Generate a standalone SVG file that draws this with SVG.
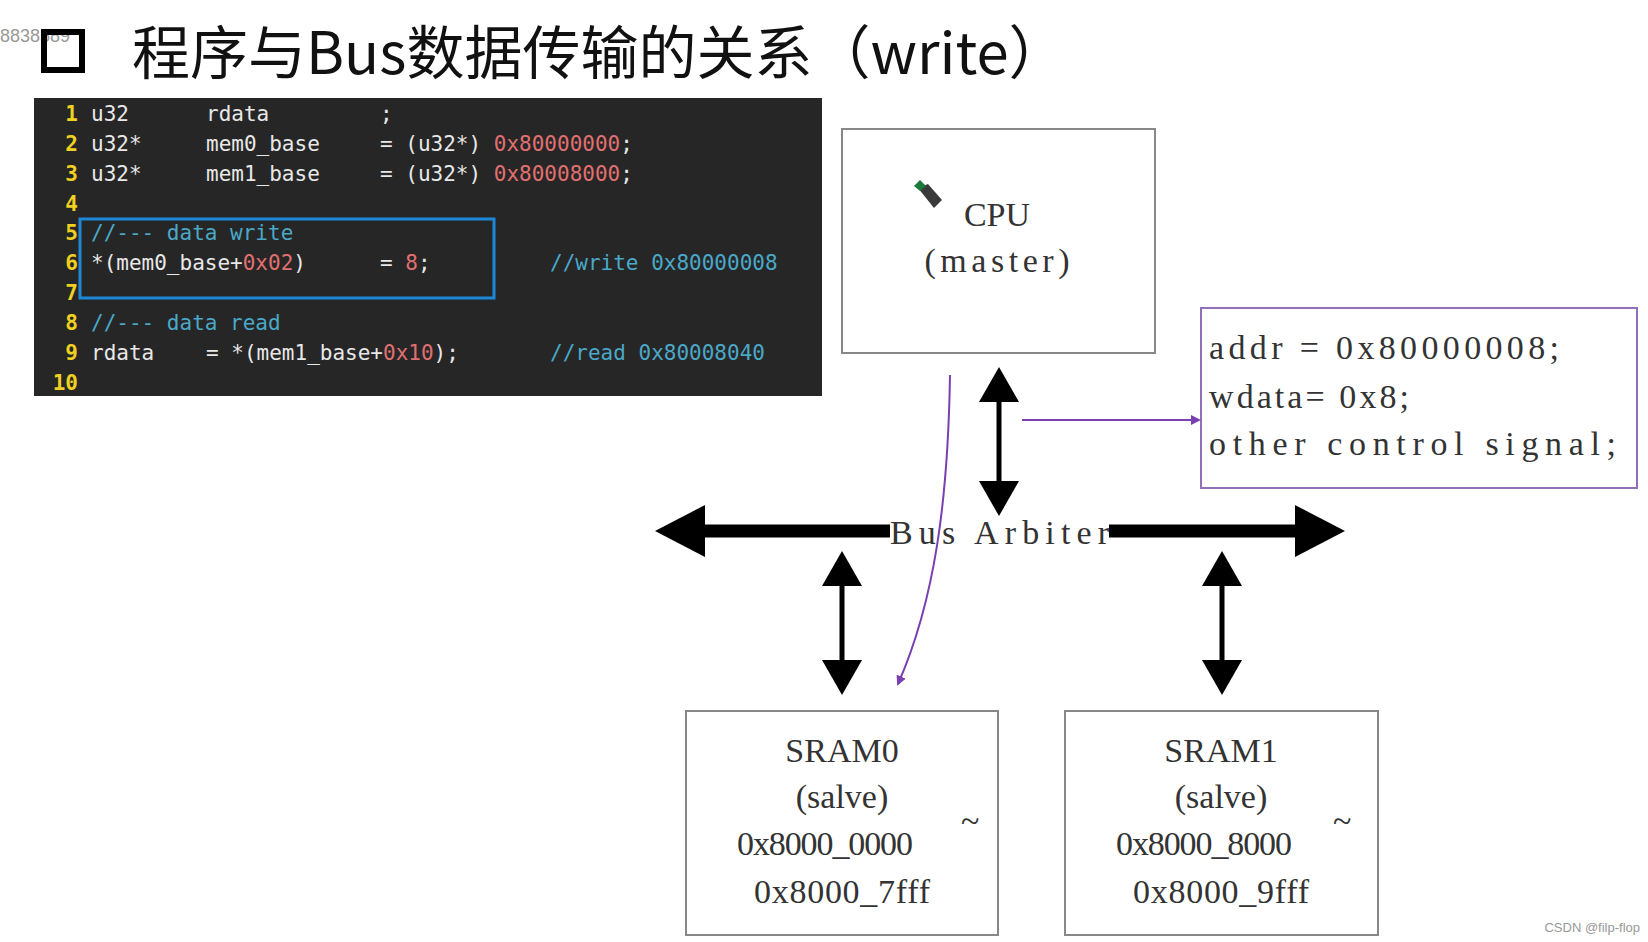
<svg xmlns="http://www.w3.org/2000/svg" width="1648" height="942" viewBox="0 0 1648 942">
<style>
.code{font-family:"DejaVu Sans Mono","Liberation Mono",monospace;font-size:21px;fill:#e8e8e8}
.ln{fill:#f0d020;font-weight:bold}
.num{fill:#e07070}
.cm{fill:#4aa8c8}
.lbl{font-family:"Liberation Serif","DejaVu Serif",serif;font-size:34px;fill:#333}
.box{fill:#fff;stroke:#888;stroke-width:2}
.bus{stroke:#000;stroke-width:5;fill:none}
</style>
<defs>
<marker id="ah" markerWidth="8" markerHeight="8" refX="6" refY="4" orient="auto-start-reverse" markerUnits="strokeWidth"><path d="M0,0 L7,4 L0,8 Z" fill="#000"/></marker>
<marker id="pa" markerWidth="10" markerHeight="10" refX="8" refY="5" orient="auto" markerUnits="userSpaceOnUse"><path d="M0,0 L10,5 L0,10 Z" fill="#7a3fb0"/></marker>
</defs>
<rect width="1648" height="942" fill="#fff"/>
<text x="0" y="42" font-family="Liberation Sans,sans-serif" font-size="18" fill="#999">8838589</text>
<rect x="44" y="32" width="38" height="38" fill="none" stroke="#000" stroke-width="6"/>
<text x="132" y="74" font-family="'Noto Sans CJK SC',sans-serif" font-size="58" fill="#111">程序与Bus数据传输的关系（write）</text>

<g id="code">
<rect x="34" y="98" width="788" height="298" fill="#262626"/>
<rect x="80" y="219" width="414" height="79" fill="none" stroke="#1e88d8" stroke-width="3"/>
<g class="code" text-anchor="end">
<text class="code ln" x="78" y="121">1</text><text class="code ln" x="78" y="151">2</text><text class="code ln" x="78" y="181">3</text><text class="code ln" x="78" y="211">4</text><text class="code ln" x="78" y="240">5</text><text class="code ln" x="78" y="270">6</text><text class="code ln" x="78" y="300">7</text><text class="code ln" x="78" y="330">8</text><text class="code ln" x="78" y="360">9</text><text class="code ln" x="78" y="390">10</text>
</g>
<text class="code" x="91" y="121">u32</text><text class="code" x="206" y="121">rdata</text><text class="code" x="380" y="121">;</text>
<text class="code" x="91" y="151">u32*</text><text class="code" x="206" y="151">mem0_base</text><text class="code" x="380" y="151">= (u32*) <tspan class="num">0x80000000</tspan>;</text>
<text class="code" x="91" y="181">u32*</text><text class="code" x="206" y="181">mem1_base</text><text class="code" x="380" y="181">= (u32*) <tspan class="num">0x80008000</tspan>;</text>
<text class="code cm" x="91" y="240">//--- data write</text>
<text class="code" x="91" y="270">*(mem0_base+<tspan class="num">0x02</tspan>)</text><text class="code" x="380" y="270">= <tspan class="num">8</tspan>;</text>
<text class="code cm" x="550" y="270">//write 0x80000008</text>
<text class="code cm" x="91" y="330">//--- data read</text>
<text class="code" x="91" y="360">rdata</text><text class="code" x="206" y="360">= *(mem1_base+<tspan class="num">0x10</tspan>);</text>
<text class="code cm" x="550" y="360">//read  0x80008040</text>
</g>

<g id="cpu">
<rect class="box" x="842" y="129" width="313" height="224"/>
<path d="M918,188 l10,-4 l14,16 l-8,8 z" fill="#3a3a3a"/><path d="M914,186 l6,-6 l6,6 l-6,5z" fill="#1a7a3a"/>
<text class="lbl" x="997" y="226" text-anchor="middle">CPU</text>
<text class="lbl" x="997" y="272" text-anchor="middle" textLength="145">(master)</text>
</g>

<g id="signals">
<rect x="1201" y="308" width="436" height="180" fill="#fff" stroke="#9070b8" stroke-width="2"/>
<text class="lbl" x="1209" y="359" textLength="350">addr = 0x80000008;</text>
<text class="lbl" x="1209" y="408" textLength="200">wdata= 0x8;</text>
<text class="lbl" x="1209" y="455" textLength="407">other control signal;</text>
</g>

<g id="sram0">
<rect class="box" x="686" y="711" width="312" height="224"/>
<text class="lbl" x="842" y="762" text-anchor="middle">SRAM0</text>
<text class="lbl" x="842" y="808" text-anchor="middle">(salve)</text>
<text class="lbl" x="825" y="855" text-anchor="middle" textLength="176">0x8000_0000</text>
<text class="lbl" x="961" y="832" font-size="24">~</text>
<text class="lbl" x="842" y="903" text-anchor="middle" textLength="176">0x8000_7fff</text>
</g>

<g id="sram1">
<rect class="box" x="1065" y="711" width="313" height="224"/>
<text class="lbl" x="1221" y="762" text-anchor="middle">SRAM1</text>
<text class="lbl" x="1221" y="808" text-anchor="middle">(salve)</text>
<text class="lbl" x="1204" y="855" text-anchor="middle" textLength="176">0x8000_8000</text>
<text class="lbl" x="1333" y="832" font-size="24">~</text>
<text class="lbl" x="1221" y="903" text-anchor="middle" textLength="176">0x8000_9fff</text>
</g>

<g id="connectors">
<line x1="680" y1="531" x2="1320" y2="531" stroke="#000" stroke-width="13"/>
<path d="M655,531 L705,505 L705,557 Z" fill="#000"/>
<path d="M1345,531 L1295,505 L1295,557 Z" fill="#000"/>
<rect x="890" y="512" width="219" height="40" fill="#fff"/>
<text class="lbl" x="890" y="544" textLength="219">Bus Arbiter</text>
<line class="bus" x1="999" y1="372" x2="999" y2="511" marker-start="url(#ah)" marker-end="url(#ah)"/>
<line class="bus" x1="842" y1="556" x2="842" y2="690" marker-start="url(#ah)" marker-end="url(#ah)"/>
<line class="bus" x1="1222" y1="556" x2="1222" y2="690" marker-start="url(#ah)" marker-end="url(#ah)"/>
<line x1="1022" y1="420" x2="1199" y2="420" stroke="#7a3fb0" stroke-width="2" marker-end="url(#pa)"/>
<path d="M950,375 C948,500 935,600 898,684" fill="none" stroke="#7a3fb0" stroke-width="2" marker-end="url(#pa)"/>
</g>
<text x="1640" y="932" text-anchor="end" font-family="Liberation Sans,sans-serif" font-size="13" fill="#999">CSDN @filp-flop</text>
</svg>
